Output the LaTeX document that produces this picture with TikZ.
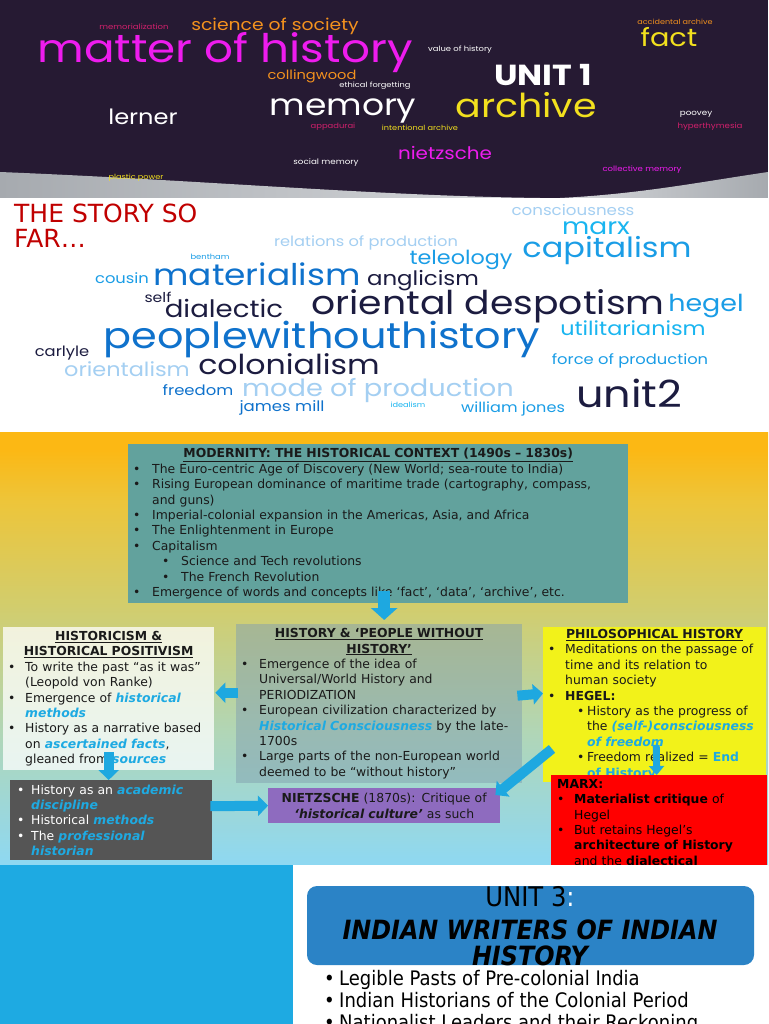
\documentclass[tikz,border=0pt]{standalone}
\usepackage{fontspec}
\setmainfont{DejaVu Sans}
\newfontfamily\cloudfont{Poppins}[FakeStretch=1.15]
\newfontfamily\narrowfont{DejaVu Sans}[FakeStretch=0.9]
\usetikzlibrary{arrows.meta,calc,positioning}
\definecolor{slidedark}{HTML}{261A33}
\definecolor{swooshgrey}{HTML}{A6AAAF}
\definecolor{swooshlight}{HTML}{D6D8DB}
\definecolor{cloudmagenta}{HTML}{EE1CEE}
\definecolor{cloudorange}{HTML}{F4921E}
\definecolor{cloudyellow}{HTML}{F2E01E}
\definecolor{cloudcrimson}{HTML}{D2206C}
\definecolor{palesky}{HTML}{A4CFF2}
\definecolor{cyansky}{HTML}{19B5F0}
\definecolor{midsky}{HTML}{1A9DE6}
\definecolor{deepsky}{HTML}{0F72CC}
\definecolor{navyink}{HTML}{1C1C40}
\definecolor{storyred}{HTML}{C00000}
\definecolor{bgorange}{HTML}{FCB814}
\definecolor{bgamber}{HTML}{EDC53A}
\definecolor{bgolive}{HTML}{D2CD6C}
\definecolor{bgmint}{HTML}{B0D6B8}
\definecolor{bgblue}{HTML}{8ED8F2}
\definecolor{modteal}{HTML}{62A29D}
\definecolor{greyveil}{HTML}{82A0B0}
\definecolor{philyellow}{HTML}{F2F21A}
\definecolor{slategrey}{HTML}{555555}
\definecolor{nietzviolet}{HTML}{8E6BBF}
\definecolor{arrowblue}{HTML}{1EA8E0}
\definecolor{hilite}{HTML}{1EAAE2}
\definecolor{inktext}{HTML}{1A1A1A}
\definecolor{unitblue}{HTML}{1EAAE2}
\definecolor{unitbox}{HTML}{2B83C6}
% the shaded path covers 25bp to 75bp of the shading
\pgfdeclareverticalshading{slidebg}{100bp}{color(0bp)=(bgblue); color(25bp)=(bgblue); color(40bp)=(bgmint); color(55bp)=(bgolive); color(67bp)=(bgamber); color(73bp)=(bgorange); color(100bp)=(bgorange)}
\newcommand{\boxfont}{\fontsize{12.4}{15.4}\selectfont}
\newcommand{\bul}[1][18pt]{\makebox[#1][l]{\textbullet}}
\newcommand{\skipin}[1][18pt]{\hspace*{#1}}
\newcommand{\keyterm}[1]{\textcolor{hilite}{\textbf{\textit{#1}}}}

\begin{document}
\begin{tikzpicture}[x=1pt,y=-1pt,
    cword/.style={font=\cloudfont\fontsize{#1}{#1}\selectfont,inner sep=0pt,anchor=base},
    infobox/.style={anchor=north west,align=left,inner xsep=5pt,inner ysep=2pt,text=inktext,font=\boxfont},
    blockarrow/.style={arrowblue,line width=10pt,-{Triangle[width=20pt,length=10pt]}}]
    \useasboundingbox (0,0) rectangle (768,1024);
    \fill[white] (0,0) rectangle (768,1024);

    % unit 1 word cloud
    \fill[slidedark] (0,0) rectangle (768,198);
    \shade[left color=swooshgrey,right color=swooshlight]
      (0,172) .. controls (200,180) and (380,196) .. (540,198) -- (0,198) -- cycle;
    \shade[left color=swooshlight,right color=swooshgrey]
      (768,172) .. controls (700,182) and (640,194) .. (560,198) -- (768,198) -- cycle;
    \foreach \wx/\wy/\ws/\wc/\wt [count=\i] in {
        134/30/7.4/cloudcrimson/memorialization,
        275/31/16.3/cloudorange/science of society,
        225/63/39.4/cloudmagenta/matter of history,
        312/80/12.7/cloudorange/collingwood,
        375/88/7.2/white/ethical forgetting,
        460/52/7.3/white/value of history,
        675/25/7/cloudorange/accidental archive,
        669/47/25/cloudyellow/fact,
        143/125/21/white/lerner,
        343/116/30/white/memory,
        526/118/33/cloudyellow/archive,
        333/129/7.3/cloudcrimson/appadurai,
        420/131/7.1/cloudyellow/intentional archive,
        696/116/7.6/white/poovey,
        710/129/7.5/cloudcrimson/hyperthymesia,
        445/160/17.3/cloudmagenta/nietzsche,
        326/165/7.6/white/social memory,
        642/172/7.4/cloudmagenta/collective memory,
        136/180/7.1/cloudyellow/plastic power}
      \node[cword=\ws,text=\wc] (topword\i) at (\wx,\wy) {\wt};
    \node[cword=29,text=white] (unitone) at (543,86) {\bfseries UNIT 1};

    % unit 2 word cloud
    \node[anchor=north west,inner sep=0pt,align=left,text=storyred,
      font=\fontsize{25}{25}\selectfont] (story) at (14,204) {THE STORY SO\\FAR…};
    \foreach \wx/\wy/\ws/\wc/\wt [count=\i] in {
        573/216/14.5/palesky/consciousness,
        596/234/23/cyansky/marx,
        366/246/14.1/palesky/relations of production,
        607/257/27.8/midsky/capitalism,
        210/259/7.3/midsky/bentham,
        461/264/19.4/midsky/teleology,
        122/283/14.2/midsky/cousin,
        257/285/29.9/deepsky/materialism,
        423/285/19.9/navyink/anglicism,
        158/302/13.6/navyink/self,
        224/317/24/navyink/dialectic,
        488/314/32.8/navyink/oriental despotism,
        706/311/23.4/midsky/hegel,
        322/348/36/deepsky/peoplewithouthistory,
        633/335/19.4/cyansky/utilitarianism,
        62/356/14.2/navyink/carlyle,
        289/374/27.5/navyink/colonialism,
        127/376/19.5/palesky/orientalism,
        630/364/14.2/midsky/force of production,
        198/395/14.3/deepsky/freedom,
        378/396/23.7/palesky/mode of production,
        282/411/14.4/deepsky/james mill,
        408/407/7.1/cyansky/idealism,
        513/412/14/midsky/william jones,
        629/407/37.4/navyink/unit2}
      \node[cword=\ws,text=\wc] (storyword\i) at (\wx,\wy) {\wt};

    % the historical context
    \shade[shading=slidebg] (0,432) rectangle (768,865);
    \node[infobox,fill=modteal,text width=490pt,minimum height=159pt] (modern) at (128,444) {%
      {\centering\underline{\textbf{MODERNITY: THE HISTORICAL CONTEXT (1490s – 1830s)}}\par}
      \bul[19pt]The Euro-centric Age of Discovery (New World; sea-route to India)\\
      \bul[19pt]Rising European dominance of maritime trade (cartography, compass,\\
      \skipin[19pt]and guns)\\
      \bul[19pt]Imperial-colonial expansion in the Americas, Asia, and Africa\\
      \bul[19pt]The Enlightenment in Europe\\
      \bul[19pt]Capitalism\\
      \skipin[29pt]\bul[19pt]Science and Tech revolutions\\
      \skipin[29pt]\bul[19pt]The French Revolution\\
      \bul[19pt]Emergence of words and concepts like ‘fact’, ‘data’, ‘archive’, etc.};
    \node[infobox,fill=white,fill opacity=0.75,text opacity=1,text width=201pt,minimum height=143pt] (historicism) at (3,627) {%
      {\centering\underline{\textbf{HISTORICISM \&}}\\\underline{\textbf{HISTORICAL POSITIVISM}}\par}
      \bul[17pt]To write the past “as it was”\\
      \skipin[17pt](Leopold von Ranke)\\
      \bul[17pt]Emergence of \keyterm{historical}\\
      \skipin[17pt]\keyterm{methods}\\
      \bul[17pt]History as a narrative based\\
      \skipin[17pt]on \keyterm{ascertained facts},\\
      \skipin[17pt]gleaned from \keyterm{sources}};
    \node[infobox,fill=greyveil,fill opacity=0.5,text opacity=1,text width=276pt,minimum height=159pt] (peoples) at (236,624) {%
      {\centering\underline{\textbf{HISTORY \& ‘PEOPLE WITHOUT}}\\\underline{\textbf{HISTORY’}}\par}
      \bul Emergence of the idea of\\
      \skipin Universal/World History and\\
      \skipin PERIODIZATION\\
      \bul European civilization characterized by\\
      \skipin\keyterm{Historical Consciousness} by the late-\\
      \skipin 1700s\\
      \bul Large parts of the non-European world\\
      \skipin deemed to be “without history”};
    \node[infobox,fill=philyellow,text width=213pt,inner xsep=5pt] (philos) at (543,627) {%
      {\centering\underline{\textbf{PHILOSOPHICAL HISTORY}}\par}
      \bul[17pt]Meditations on the passage of\\
      \skipin[17pt]time and its relation to\\
      \skipin[17pt]human society\\
      \bul[17pt]\textbf{HEGEL:}\\
      \skipin[29pt]\bul[10pt]History as the progress of\\
      \skipin[39pt]the \keyterm{(self-)consciousness}\\
      \skipin[39pt]\keyterm{of freedom}\\
      \skipin[29pt]\bul[10pt]Freedom realized = \textcolor{hilite}{\textbf{End}}\\
      \skipin[39pt]\textcolor{hilite}{\textbf{of History}}};
    \node[infobox,fill=slategrey,text=white,text width=188pt,inner xsep=7pt,minimum height=80pt] (academic) at (10,780) {%
      \bul[14pt]History as an \keyterm{academic}\\
      \skipin[14pt]\keyterm{discipline}\\
      \bul[14pt]Historical \keyterm{methods}\\
      \bul[14pt]The \keyterm{professional}\\
      \skipin[14pt]\keyterm{historian}};
    \node[infobox,fill=nietzviolet,align=center,text width=222pt,minimum height=35pt] (nietzsche) at (268,788) {%
      \textbf{NIETZSCHE} (1870s): Critique of\\
      \textbf{\textit{‘historical culture’}} as such};

    % arrows between the boxes
    \draw[blockarrow,line width=12pt,-{Triangle[width=26pt,length=12pt]}]
      ($(modern.south)+(6,-12)$) -- ($(modern.south |- peoples.north)+(6,-4)$);
    \draw[blockarrow] ($(peoples.west)+(2,-11)$) -- ($(historicism.east)+(1,-6)$);
    \draw[blockarrow] ($(peoples.east)+(-5,-8)$) -- ($(philos.west)+(0,-11)$);
    \draw[blockarrow] ($(philos.south west)+(9,-33)$) -- ($(nietzsche.north east)+(-5,7)$);
    \draw[blockarrow] ($(historicism.south)+(0,-18)$) -- (historicism.south |- academic.north);
    \draw[blockarrow] ($(academic.east)+(-2,-14)$) -- (nietzsche.west);
    \node[infobox,fill=red,text=black,text width=204pt,inner xsep=6pt,inner ysep=4pt] (marx) at (551,775) {%
      \textbf{MARX:}\\
      \bul[17pt]\textbf{Materialist critique} of\\
      \skipin[17pt]Hegel\\
      \bul[17pt]But retains Hegel’s\\
      \skipin[17pt]\textbf{architecture of History}\\
      \skipin[17pt]and the \textbf{dialectical}};
    \draw[blockarrow,line width=7pt,-{Triangle[width=15pt,length=9pt]}]
      ($(philos.south)+(1.5,-37)$) -- ($(marx.north)+(-2.5,0)$);

    % unit 3
    \fill[unitblue] (0,865) rectangle (293,1024);
    \fill[white] (293,865) rectangle (768,1024);
    \node[fill=unitbox,rounded corners=10pt,minimum width=447pt,minimum height=79pt] (unitpanel) at (530.5,925.5) {};
    \node[anchor=base,inner sep=0pt,font=\narrowfont\fontsize{27}{27}\selectfont] (unitthree) at (530,906) {UNIT 3\textcolor{white}{:}};
    \node[anchor=north,inner sep=0pt,align=center,font=\narrowfont\bfseries\itshape\fontsize{26.5}{26}\selectfont] (unittitle) at (530,920) {INDIAN WRITERS OF INDIAN\\HISTORY};
    \node[anchor=north west,inner sep=0pt,align=left,font=\narrowfont\fontsize{20}{22}\selectfont] (unitlist) at (324,970) {%
      \bul[15pt]Legible Pasts of Pre-colonial India\\
      \bul[15pt]Indian Historians of the Colonial Period\\
      \bul[15pt]Nationalist Leaders and their Reckoning};
\end{tikzpicture}
\end{document}
